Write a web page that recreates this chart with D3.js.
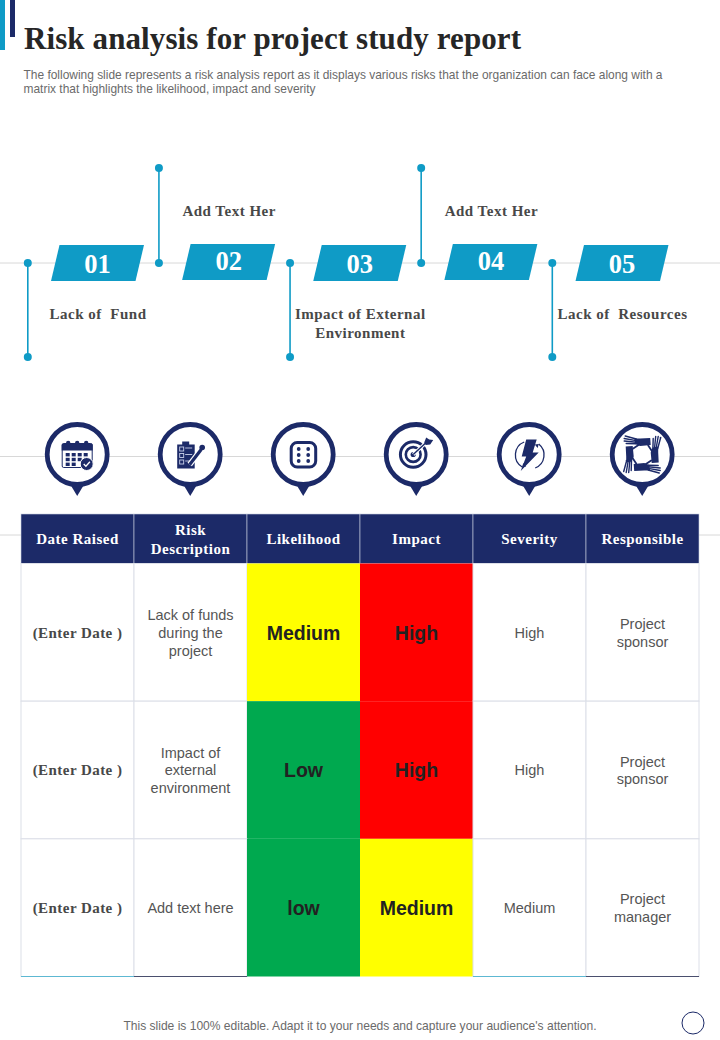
<!DOCTYPE html>
<html>
<head>
<meta charset="utf-8">
<title>Risk analysis for project study report</title>
<script src="https://cdnjs.cloudflare.com/ajax/libs/d3/7.8.5/d3.min.js"></script>
<style>
html, body { margin: 0; padding: 0; background: #fff; }
svg { display: block; }
.serif { font-family: "Liberation Serif", serif; font-weight: bold; }
.sans { font-family: "Liberation Sans", Arial, sans-serif; }
</style>
</head>
<body>
<div class="container"></div>
<script>
// the chart's content
var titleText = "Risk analysis for project study report";
var introLines = [
	"The following slide represents a risk analysis report as it displays various risks that the organization can face along with a",
	"matrix that highlights the likelihood, impact and severity"
];
var footerText = "This slide is 100% editable. Adapt it to your needs and capture your audience's attention.";

var stepNumbers = ["01", "02", "03", "04", "05"];
var stepLabels = [["Lack of  Fund"], ["Add Text Her"], ["Impact of External", "Environment"], ["Add Text Her"], ["Lack of  Resources"]];
// 1 = stem and label below the line, -1 = above
var stepSides = [1, -1, 1, -1, 1];

var headerLines = [["Date Raised"], ["Risk", "Description"], ["Likelihood"], ["Impact"], ["Severity"], ["Responsible"]];
var iconNames = ["calendar", "clipboard", "dice", "target", "bolt", "hands"];
var dates = ["(Enter Date )", "(Enter Date )", "(Enter Date )"];
var descriptions = [["Lack of funds", "during the", "project"], ["Impact of", "external", "environment"], ["Add text here"]];
var likelihood = ["Medium", "Low", "low"];
var impact = ["High", "High", "Medium"];
var severity = ["High", "High", "Medium"];
var responsible = [["Project", "sponsor"], ["Project", "sponsor"], ["Project", "manager"]];

var navy = "#1c2a68";
var teal = "#0f9bc6";
var ratingColor = d3.scaleOrdinal()
	.domain(["high", "medium", "low"])
	.range(["#ff0000", "#ffff00", "#00a94f"]);

var svg = d3.select(".container").append("svg")
	.attr("width", 720)
	.attr("height", 1040);

// scales
var stepX = d3.scaleLinear().domain([0, 4]).range([97.5, 622]);
var colX = d3.scaleBand().domain(d3.range(6)).range([21, 699]);
var rowY = d3.scaleBand().domain(d3.range(3)).range([563.5, 976.5]);

// corner bars
svg.append("rect").attr("x", 0).attr("y", 0).attr("width", 5).attr("height", 50).attr("fill", teal);
svg.append("rect").attr("x", 10).attr("y", 0).attr("width", 5).attr("height", 37).attr("fill", navy);

// heading
svg.append("text").attr("class", "serif")
	.attr("x", 24).attr("y", 49)
	.attr("font-size", 31)
	.attr("fill", "#262626")
	.attr("textLength", 497)
	.attr("lengthAdjust", "spacing")
	.text(titleText);

svg.selectAll(".intro").data(introLines).enter().append("text")
	.attr("class", "intro sans")
	.attr("x", 23.5)
	.attr("y", function(d, i){ return 79 + i * 14; })
	.attr("font-size", 11.95)
	.attr("fill", "#6a6a6a")
	.text(function(d){ return d; });

// grey guide lines
[263, 456.5, 535].forEach(function(y){
	svg.append("line")
		.attr("x1", 0).attr("x2", 720)
		.attr("y1", y).attr("y2", y)
		.attr("stroke", "#d8d8d8");
});

// timeline
var steps = svg.selectAll(".step").data(stepNumbers).enter().append("g")
	.attr("class", "step")
	.attr("transform", function(d, i){
		return "translate(" + stepX(i) + "," + (stepSides[i] > 0 ? 263 : 262) + ")";
	});

steps.append("path")
	.attr("d", d3.line()([[-38, -18], [46.5, -18], [38, 18], [-46.5, 18]]) + "Z")
	.attr("fill", teal);

steps.append("text").attr("class", "serif")
	.attr("text-anchor", "middle")
	.attr("y", function(d, i){ return stepSides[i] > 0 ? 10 : 8; })
	.attr("font-size", 26.5)
	.attr("fill", "#fff")
	.text(function(d){ return d; });

var stems = svg.selectAll(".stem").data(stepSides).enter().append("g")
	.attr("class", "stem")
	.attr("transform", function(d, i){ return "translate(" + (stepX(i) - 69.7) + ",263)"; });
stems.append("line")
	.attr("y2", function(d){ return d > 0 ? 94 : -95; })
	.attr("stroke", teal)
	.attr("stroke-width", 1.6);
stems.append("circle").attr("r", 4).attr("fill", teal);
stems.append("circle")
	.attr("cy", function(d){ return d > 0 ? 94 : -95; })
	.attr("r", 4)
	.attr("fill", teal);

var labels = svg.selectAll(".step-label").data(stepLabels).enter().append("text")
	.attr("class", "step-label serif")
	.attr("text-anchor", "middle")
	.attr("font-size", 15)
	.attr("letter-spacing", 0.5)
	.attr("fill", "#484848")
	.attr("transform", function(d, i){
		return "translate(" + (stepX(i) + 0.5) + "," + (stepSides[i] > 0 ? 319 : 216) + ")";
	});
labels.selectAll("tspan").data(function(d){ return d; }).enter().append("tspan")
	.attr("x", 0)
	.attr("dy", function(d, i){ return i ? 19 : 0; })
	.style("white-space", "pre")
	.text(function(d){ return d; });

// icon pins
var pins = svg.selectAll(".pin").data(iconNames).enter().append("g")
	.attr("class", "pin")
	.attr("transform", function(d, i){
		return "translate(" + (colX(i) + colX.bandwidth() / 2 - 0.3) + ",454.5)";
	});
pins.append("path")
	.attr("d", d3.line()([[-7.5, 29], [0, 41.5], [7.5, 29]]) + "Z")
	.attr("fill", navy);
pins.append("circle")
	.attr("r", 30)
	.attr("fill", "#fff")
	.attr("stroke", navy)
	.attr("stroke-width", 4.8);

var drawIcon = {
	calendar: function(g){
		g.append("rect").attr("x", -15).attr("y", -11).attr("width", 30).attr("height", 24).attr("rx", 1.5)
			.attr("fill", "#fff").attr("stroke", navy).attr("stroke-width", 1);
		g.append("path").attr("d", "M-15.5,-4V-9.5Q-15.5,-11 -14,-11H14Q15.5,-11 15.5,-9.5V-4Z").attr("fill", navy);
		[-9, 0, 9].forEach(function(x){
			g.append("circle").attr("cx", x).attr("cy", -11.5).attr("r", 2.2).attr("fill", navy);
		});
		d3.cross(d3.range(4), d3.range(3)).forEach(function(c){
			if (c[0] > 1 && c[1] == 2) return;
			g.append("rect").attr("x", -11.5 + c[0] * 6).attr("y", -1.5 + c[1] * 4.8)
				.attr("width", 4).attr("height", 3.4).attr("fill", navy);
		});
		g.append("circle").attr("cx", 9.5).attr("cy", 9.5).attr("r", 6.5).attr("fill", navy).attr("stroke", "#fff");
		g.append("path").attr("d", "M6.5,9.5l2.2,2.2 4,-4.4").attr("fill", "none").attr("stroke", "#fff").attr("stroke-width", 1.3);
	},
	clipboard: function(g){
		g.append("path").attr("d", "M-13,-10H-8V-13H-1V-10H4.5V14H-13Z").attr("fill", navy);
		[-5.5, 1, 7.5].forEach(function(y){
			g.append("rect").attr("x", -10.5).attr("y", y - 2).attr("width", 4).attr("height", 4)
				.attr("fill", "none").attr("stroke", "#c9d0ea").attr("stroke-width", 0.9);
			g.append("line").attr("x1", -5).attr("x2", 2).attr("y1", y - 1).attr("y2", y - 1)
				.attr("stroke", "#c9d0ea").attr("stroke-width", 0.9);
		});
		g.append("path").attr("d", "M-0.5,10L11,-5").attr("stroke", "#fff").attr("stroke-width", 5.5);
		g.append("path").attr("d", "M-0.5,10L11,-5").attr("stroke", navy).attr("stroke-width", 3.2);
		g.append("circle").attr("cx", 12).attr("cy", -7).attr("r", 2.8).attr("fill", navy);
	},
	dice: function(g){
		g.append("rect").attr("x", -12).attr("y", -12).attr("width", 24.5).attr("height", 24.5).attr("rx", 6)
			.attr("fill", "#fff").attr("stroke", navy).attr("stroke-width", 3);
		d3.cross([-4.5, 5], [-5.5, 0.5, 6.5]).forEach(function(c){
			g.append("circle").attr("cx", c[0]).attr("cy", c[1]).attr("r", 1.9).attr("fill", navy);
		});
	},
	target: function(g){
		g.append("circle").attr("cx", -3).attr("r", 12.8)
			.attr("fill", "none").attr("stroke", navy).attr("stroke-width", 3);
		g.append("circle").attr("cx", -3).attr("r", 7.4)
			.attr("fill", "none").attr("stroke", navy).attr("stroke-width", 2.6);
		g.append("circle").attr("cx", -3).attr("r", 2.6).attr("fill", navy);
		g.append("path").attr("d", "M-3,0L10,-12").attr("stroke", "#fff").attr("stroke-width", 3.4);
		g.append("path").attr("d", "M-3,0L10,-12").attr("stroke", navy).attr("stroke-width", 1.5);
		g.append("path").attr("d", "M8,-12L10,-17L13,-15L17,-14.5L14,-10L9.5,-9.5Z").attr("fill", navy);
	},
	bolt: function(g){
		g.append("path").attr("d", "M-5,-12.5A14,14 0 0 0 -7,12.5M6,13.5A14,14 0 0 0 9.5,-10.5")
			.attr("fill", "none").attr("stroke", navy).attr("stroke-width", 1.3);
		g.append("path").attr("d", "M-7,12.5l1,-4 3,3.5ZM9.5,-10.5l-1,4 -3,-3.5Z").attr("fill", navy);
		g.append("path").attr("d", "M-3,-15H7.5L3.5,-2H9.5L-8.5,16.5L-3,2H-7.5Z").attr("fill", navy);
	},
	hands: function(g){
		[0, 90, 180, 270].forEach(function(a){
			var hand = g.append("g").attr("transform", "rotate(" + a + ")");
			hand.append("path").attr("d", "M8,-16.5L8.5,-9.5L-2,-8.5L-7,-10.5L-8,-16L-2,-16Z").attr("fill", navy);
			[[-17, -18.5], [-18, -16], [-18, -13.5], [-16, -11]].forEach(function(tip, i){
				hand.append("line").attr("x1", -6).attr("y1", -15.5 + i * 1.6)
					.attr("x2", tip[0]).attr("y2", tip[1])
					.attr("stroke", navy).attr("stroke-width", 1.4).attr("stroke-linecap", "round");
			});
			hand.append("line").attr("x1", -3).attr("y1", -10).attr("x2", -9).attr("y2", -6)
				.attr("stroke", navy).attr("stroke-width", 1.8).attr("stroke-linecap", "round");
		});
	}
};
pins.each(function(d){ drawIcon[d](d3.select(this)); });

// table header
var heads = svg.selectAll(".head").data(headerLines).enter().append("g")
	.attr("class", "head")
	.attr("transform", function(d, i){ return "translate(" + colX(i) + ",514)"; });
heads.append("rect")
	.attr("width", colX.bandwidth())
	.attr("height", 49.5)
	.attr("fill", navy)
	.attr("stroke", "#c9cfe0")
	.attr("stroke-width", 0.6);
heads.append("text").attr("class", "serif")
	.attr("text-anchor", "middle")
	.attr("x", colX.bandwidth() / 2)
	.attr("y", function(d){ return d.length > 1 ? 21 : 29.5; })
	.attr("font-size", 15)
	.attr("letter-spacing", 0.5)
	.attr("fill", "#fff")
	.selectAll("tspan").data(function(d){ return d; }).enter().append("tspan")
	.attr("x", colX.bandwidth() / 2)
	.attr("dy", function(d, i){ return i ? 19 : 0; })
	.text(function(d){ return d; });

// table body, one entry per cell
var cells = [];
d3.range(3).forEach(function(r){
	[[dates[r]], descriptions[r], [likelihood[r]], [impact[r]], [severity[r]], responsible[r]].forEach(function(lines, c){
		cells.push({row: r, col: c, lines: lines, rated: c == 2 || c == 3});
	});
});

var cellG = svg.selectAll(".cell").data(cells).enter().append("g")
	.attr("class", "cell")
	.attr("transform", function(d){ return "translate(" + colX(d.col) + "," + rowY(d.row) + ")"; });

cellG.append("rect")
	.attr("width", colX.bandwidth())
	.attr("height", rowY.bandwidth())
	.attr("fill", function(d){
		return d.rated ? ratingColor(d.lines[0].toLowerCase()) : "#fff";
	})
	.attr("stroke", function(d){ return d.rated ? "none" : "#dcdfe8"; })
	.attr("stroke-width", 1);

cellG.append("text")
	.attr("class", function(d){ return d.col == 0 ? "serif" : "sans"; })
	.attr("text-anchor", "middle")
	.attr("font-size", function(d){
		if (d.col == 0) return 15;
		return d.rated ? 19.5 : 14.5;
	})
	.attr("letter-spacing", function(d){ return d.col == 0 ? 0.45 : null; })
	.attr("font-weight", function(d){ return d.rated ? "bold" : null; })
	.attr("fill", function(d){
		if (d.col == 0) return "#484848";
		return d.rated ? "#222" : "#555";
	})
	.selectAll("tspan").data(function(d){
		return d.lines.map(function(t, i){ return {text: t, i: i, n: d.lines.length, rated: d.rated}; });
	}).enter().append("tspan")
	.attr("x", colX.bandwidth() / 2)
	.attr("y", function(d){
		return rowY.bandwidth() / 2 + (d.rated ? 7.5 : 5.5) + (d.i - (d.n - 1) / 2) * 17.7;
	})
	.text(function(d){ return d.text; });

// closing rule under the table: teal and navy by turns, none under the coloured columns
[0, 1, 4, 5].forEach(function(c){
	svg.append("line")
		.attr("x1", colX(c)).attr("x2", colX(c) + colX.bandwidth())
		.attr("y1", 976.5).attr("y2", 976.5)
		.attr("stroke", c % 2 ? "#4a4f6e" : "#5db8d2")
		.attr("stroke-width", 1);
});

// footer
svg.append("text").attr("class", "sans")
	.attr("x", 360).attr("y", 1030)
	.attr("text-anchor", "middle")
	.attr("font-size", 12.05)
	.attr("fill", "#6a6a6a")
	.text(footerText);
svg.append("circle")
	.attr("cx", 693).attr("cy", 1023).attr("r", 11)
	.attr("fill", "#fff").attr("stroke", navy).attr("stroke-width", 1);
</script>
</body>
</html>
